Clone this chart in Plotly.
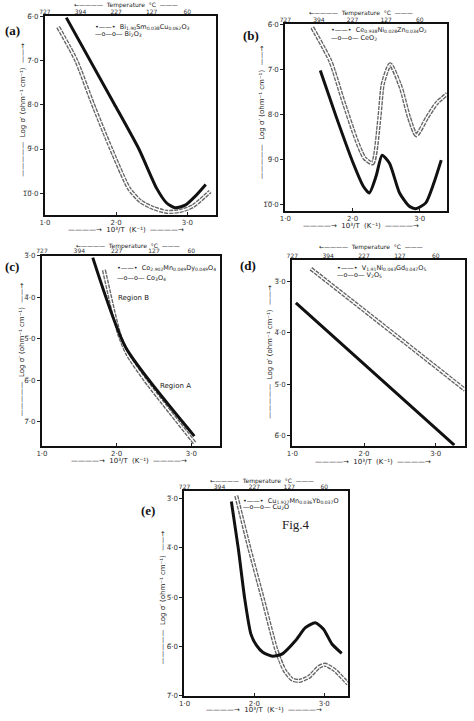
import plotly.graph_objects as go

W, H = 474, 721

# ---------------- data (x = 10^3/T in K^-1, y = log sigma, bar notation) -------------
# (a)
a_dop_x = [1.30, 1.97, 2.32, 2.57, 2.71, 2.83, 2.97, 3.11, 3.26]
a_dop_y = [6.03, 7.97, 9.00, 9.89, 10.22, 10.33, 10.27, 10.07, 9.80]
a_pure_x = [1.185, 1.44, 1.67, 1.93, 2.18, 2.34, 2.53, 2.71, 2.90, 3.08, 3.32]
a_pure_y = [6.24, 7.00, 7.97, 9.00, 9.89, 10.18, 10.34, 10.42, 10.40, 10.29, 9.96]
# (b)
b_dop_x = [1.52, 1.76, 2.01, 2.16, 2.25, 2.35, 2.44, 2.55, 2.70, 2.84, 2.94, 3.09, 3.21, 3.32]
b_dop_y = [7.03, 8.07, 9.09, 9.60, 9.75, 9.38, 8.91, 9.09, 9.75, 10.04, 10.10, 9.97, 9.53, 9.02]
b_pure_x = [1.40, 1.67, 1.86, 2.06, 2.18, 2.30, 2.40, 2.45, 2.56, 2.72, 2.84, 2.95, 3.11, 3.26, 3.41]
b_pure_y = [6.07, 6.82, 7.70, 8.58, 8.98, 9.09, 8.07, 7.33, 6.89, 7.41, 8.07, 8.47, 8.07, 7.74, 7.55]
# (c)
c_dop_x = [1.68, 2.12, 3.04]
c_dop_y = [3.04, 5.20, 7.34]
c_pure_x = [1.83, 2.03, 2.15, 2.39, 3.05]
c_pure_y = [3.34, 4.86, 5.38, 6.01, 7.52]
# (d)
d_dop_x = [1.05, 2.25, 3.26]
d_dop_y = [3.42, 4.92, 6.18]
d_pure_x = [1.26, 2.25, 3.41]
d_pure_y = [2.76, 3.84, 5.11]
# (e)
e_dop_x = [1.67, 1.77, 1.86, 1.95, 2.03, 2.12, 2.26, 2.40, 2.59, 2.73, 2.87, 2.99, 3.11, 3.25]
e_dop_y = [3.06, 4.02, 5.02, 5.75, 5.98, 6.12, 6.20, 6.15, 5.88, 5.62, 5.52, 5.65, 5.95, 6.14]
e_pure_x = [1.74, 1.93, 2.12, 2.31, 2.43, 2.54, 2.64, 2.78, 2.92, 3.01, 3.15, 3.34]
e_pure_y = [2.94, 4.02, 5.03, 6.05, 6.48, 6.67, 6.70, 6.62, 6.42, 6.37, 6.48, 6.76]

# tick labels
top_tick_vals = [1.0, 1.5, 2.0, 2.5, 3.0]
top_tick_text = ["727", "394", "227", "127", "60"]
bottom_tick_vals = [1.0, 2.0, 3.0]
bottom_tick_text = ["1·0", "2·0", "3·0"]

legend_doped = [
    "Bi<sub>1.90</sub>Sm<sub>0.038</sub>Cu<sub>0.062</sub>O<sub>3</sub>",
    "Ce<sub>0.938</sub>Ni<sub>0.028</sub>Zn<sub>0.034</sub>O<sub>2</sub>",
    "Co<sub>2.902</sub>Mn<sub>0.049</sub>Dy<sub>0.049</sub>O<sub>4</sub>",
    "V<sub>1.91</sub>Ni<sub>0.043</sub>Gd<sub>0.047</sub>O<sub>5</sub>",
    "Cu<sub>1.927</sub>Mn<sub>0.036</sub>Yb<sub>0.037</sub>O",
]
legend_pure = [
    "Bi<sub>2</sub>O<sub>3</sub>",
    "CeO<sub>2</sub>",
    "Co<sub>3</sub>O<sub>4</sub>",
    "V<sub>2</sub>O<sub>5</sub>",
    "Cu<sub>2</sub>O",
]
panel_letters = ["(a)", "(b)", "(c)", "(d)", "(e)"]
y_ticks = [[6, 7, 8, 9, 10], [6, 7, 8, 9, 10], [3, 4, 5, 6, 7], [3, 4, 5, 6], [3, 4, 5, 6, 7]]
region_labels = ["Region B", "Region A"]

# ---------------- layout geometry (pixels) ----------------
boxes = [  # left, right, top, bottom
    (40, 213, 13, 214),
    (283, 447, 21, 210),
    (37, 217, 255, 447),
    (290, 465, 260, 447),
    (181, 347, 493, 700),
]
xranges = [[0.995, 3.40], [0.995, 3.41], [0.995, 3.38], [0.995, 3.41], [0.993, 3.345]]
yranges = [[10.49, 5.99], [10.15, 5.99], [7.57, 2.99], [6.19, 2.6], [7.01, 2.85]]

series = [
    (a_dop_x, a_dop_y, a_pure_x, a_pure_y),
    (b_dop_x, b_dop_y, b_pure_x, b_pure_y),
    (c_dop_x, c_dop_y, c_pure_x, c_pure_y),
    (d_dop_x, d_dop_y, d_pure_x, d_pure_y),
    (e_dop_x, e_dop_y, e_pure_x, e_pure_y),
]

# annotation positions (pixels)
letter_pos = [(8, 28), (249, 33), (7, 266), (246, 265), (145, 512)]
temp_pos = [(122, 2.5), (360, 10), (124, 245), (370, 246), (260, 483)]
bottom_pos = [(122, 229), (360, 225), (125, 462), (372, 463), (262, 714)]
ytitle_pos = [(18, 108), (260, 110), (17, 350), (267, 352), (160, 600)]
legend_pos = [  # sample start x, row1 y, row2 y
    (89, 24, 31),
    (327, 27, 35),
    (111, 268, 278),
    (334, 268, 275),
    (239, 503, 509),
]
region_pos = [(130, 298), (172, 387)]


def px(x):
    return x / W


def py(y):
    return 1 - y / H


def bar(v):
    s = str(int(v))
    return "".join(ch + "\u0305" for ch in s) + "·0"


FONT = "DejaVu Sans"
D = "\u2014"
fig = go.Figure()
layout = dict(
    width=W, height=H, margin=dict(l=0, r=0, t=0, b=0),
    paper_bgcolor="white", plot_bgcolor="white", showlegend=False,
    font=dict(family=FONT, size=7, color="#222"),
)
annotations = []


def note(x, y, text, xanchor="center", **kw):
    d = dict(x=px(x), y=py(y), xref="paper", yref="paper", showarrow=False,
             xanchor=xanchor, yanchor="middle", text=text)
    d.update(kw)
    annotations.append(d)


for i in range(5):
    s = "" if i == 0 else str(i + 1)
    xa, ya = "x" + s, "y" + s
    l, r, t, b = boxes[i]
    dxp, dyp, pxp, pyp = series[i]
    # pure (open circles) -> grey band with hollow centre
    fig.add_trace(go.Scatter(x=pxp, y=pyp, mode="lines", xaxis=xa, yaxis=ya,
                             line=dict(color="#666", width=4.2, shape="spline", smoothing=0.6, dash="4px,1px")))
    fig.add_trace(go.Scatter(x=pxp, y=pyp, mode="lines", xaxis=xa, yaxis=ya,
                             line=dict(color="white", width=1.5, shape="spline", smoothing=0.6)))
    # doped (filled circles)
    fig.add_trace(go.Scatter(x=dxp, y=dyp, mode="lines", xaxis=xa, yaxis=ya,
                             line=dict(color="#111", width=3, shape="spline", smoothing=0.6)))
    # dummy for top axis
    xt = "x" + str(i + 6)
    fig.add_trace(go.Scatter(x=[], y=[], xaxis=xt, yaxis=ya, showlegend=False))

    layout["xaxis" + s] = dict(
        domain=[px(l), px(r)], range=xranges[i], anchor=ya,
        showline=True, linecolor="#111", linewidth=1.6, mirror=True,
        showgrid=False, zeroline=False, ticks="inside", ticklen=3, tickwidth=1,
        tickcolor="#222", tickvals=bottom_tick_vals, ticktext=bottom_tick_text,
        tickfont=dict(size=7, family=FONT, color="#333"),
    )
    layout["yaxis" + s] = dict(
        domain=[py(b), py(t)], range=yranges[i], anchor=xa,
        showline=True, linecolor="#111", linewidth=1.6, mirror=True,
        showgrid=False, zeroline=False, ticks="outside", ticklen=3, tickwidth=1,
        tickcolor="#222", tickvals=y_ticks[i], ticktext=[bar(v) for v in y_ticks[i]],
        tickfont=dict(size=7, family=FONT, color="#333"),
    )
    layout["xaxis" + str(i + 6)] = dict(
        overlaying=xa, anchor=ya, side="top", range=xranges[i],
        showline=False, showgrid=False, zeroline=False, ticks="",
        tickvals=top_tick_vals, ticktext=top_tick_text,
        tickfont=dict(size=6, family=FONT, color="#333"),
    )

    lx, ly = letter_pos[i]
    note(lx, ly, "<b>" + panel_letters[i] + "</b>",
         font=dict(family="Liberation Serif", size=13, color="#111"))
    tx, ty = temp_pos[i]
    note(tx, ty, "←" + D * 4 + "  Temperature  °C  " + D * 3, font=dict(size=6, color="#222"))
    bx, by = bottom_pos[i]
    note(bx, by, D * 4 + "→  10³/T  (K⁻¹)  " + D * 4 + "→",
         font=dict(size=7, color="#222"))
    yx, yy = ytitle_pos[i]
    note(yx, yy, D * 5 + "  Log σ′ (ohm⁻¹ cm⁻¹)  " + D * 2 + "→",
         textangle=-90, font=dict(size=7, color="#222"))
    gx, g1, g2 = legend_pos[i]
    note(gx, g1, "•" + D * 2 + "•  " + legend_doped[i], xanchor="left",
         font=dict(size=6.5, color="#222"))
    note(gx, g2, D + "o" + D + "o" + D + " " + legend_pure[i], xanchor="left",
         font=dict(size=6.5, color="#222"))

for (rx, ry), rt in zip(region_pos, region_labels):
    note(rx, ry, rt, font=dict(size=7, color="#222"))

note(294, 527, "Fig.4", font=dict(family="Liberation Serif", size=13, color="#222"))

layout["annotations"] = annotations
fig.update_layout(**layout)
fig.write_html("out.html")
